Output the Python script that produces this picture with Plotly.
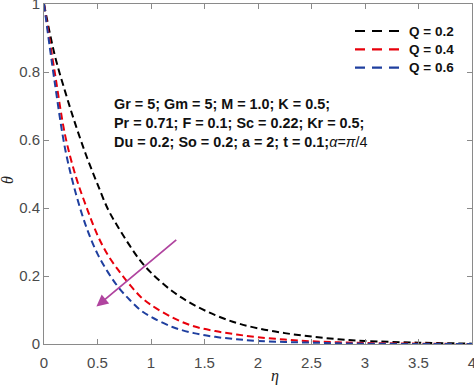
import plotly.graph_objects as go

eta = [0, 0.1, 0.2, 0.3, 0.4, 0.5, 0.6, 0.7, 0.8, 0.9, 1.0, 1.2, 1.4, 1.6, 1.8, 2.0, 2.25, 2.5, 2.75, 3.0, 3.5, 4.0]
theta_q02 = [1, 0.85, 0.74, 0.64, 0.55, 0.47, 0.395, 0.34, 0.29, 0.245, 0.21, 0.155, 0.115, 0.085, 0.062, 0.046, 0.032, 0.022, 0.014, 0.009, 0.004, 0.001]
theta_q04 = [1, 0.80, 0.61, 0.49, 0.40, 0.32, 0.26, 0.215, 0.175, 0.14, 0.115, 0.078, 0.052, 0.038, 0.028, 0.02, 0.013, 0.008, 0.005, 0.003, 0.001, 0.0]
theta_q06 = [1, 0.77, 0.57, 0.44, 0.34, 0.265, 0.21, 0.165, 0.13, 0.10, 0.08, 0.05, 0.032, 0.021, 0.014, 0.009, 0.006, 0.004, 0.002, 0.001, 0.0, 0.0]
labels = ["Q = 0.2", "Q = 0.4", "Q = 0.6"]
colors = ["#000000", "#e8000b", "#1f3f9f"]
xticks = [0, 0.5, 1, 1.5, 2, 2.5, 3, 3.5, 4]
yticks = [0, 0.2, 0.4, 0.6, 0.8, 1]

# plot area in pixels: x 44..472, y 4..344
W_PLOT, H_PLOT = 428, 340

fig = go.Figure()
for ys, lab, c in zip([theta_q02, theta_q04, theta_q06], labels, colors):
    fig.add_trace(go.Scatter(x=eta, y=ys, mode="lines", name=lab, line_shape="spline", showlegend=False,
                             line=dict(color=c, width=2, dash="7px,4px")))

# legend drawn as dashed line samples + bold labels
for i, (lab, c) in enumerate(zip(labels, colors)):
    ypx = 31 + i * 18.3
    yp = (344 - ypx) / H_PLOT
    fig.add_shape(type="line", xref="paper", yref="paper",
                  x0=(355 - 44) / W_PLOT, x1=(400 - 44) / W_PLOT, y0=yp, y1=yp,
                  line=dict(color=c, width=2.2, dash="10px,7px"))
    fig.add_annotation(x=(407 - 44) / W_PLOT, y=yp, xref="paper", yref="paper", text=f"<b>{lab}</b>",
                       showarrow=False, xanchor="left", yanchor="middle",
                       font=dict(family="Arial", size=13.5, color="#111111"))

axis_common = dict(showline=True, linecolor="#8a8a8a", linewidth=1, mirror="ticks",
                   ticks="inside", ticklen=5, tickcolor="#8a8a8a", showgrid=False, zeroline=False,
                   automargin=False, ticklabeloverflow="allow",
                   tickfont=dict(family="Arial", size=15, color="#4a4a4a"))
fig.update_xaxes(range=[0, 4], tickvals=xticks, ticktext=[f"{v:g}" for v in xticks],
                 ticklabelstandoff=5, **axis_common)
fig.update_yaxes(range=[0, 1], tickvals=yticks, ticktext=[f"{v:g}" for v in yticks],
                 ticklabelstandoff=0, **axis_common)

txt_font = dict(family="Arial", size=14.4, color="#111111")
lines = ["<b>Gr = 5; Gm = 5; M = 1.0; K = 0.5;</b>",
         "<b>Pr = 0.71; F = 0.1; Sc = 0.22; Kr = 0.5;</b>",
         "<b>Du = 0.2; So = 0.2; a = 2; t = 0.1;</b><i>α</i>=<i>π</i>/4"]
for i, t in enumerate(lines):
    fig.add_annotation(x=0.635, y=0.707 - i * 0.057, xref="x", yref="y", text=t, showarrow=False,
                       xanchor="left", yanchor="middle", font=txt_font)

fig.add_annotation(x=0.49, y=0.11, ax=1.25, ay=0.31, xref="x", yref="y", axref="x", ayref="y",
                   text="", showarrow=True, arrowhead=2, arrowsize=1.3, arrowwidth=1.8,
                   arrowcolor="#b0449f")

fig.add_annotation(x=(275 - 44) / W_PLOT, y=-(376 - 344) / H_PLOT, xref="paper", yref="paper",
                   text="<i>η</i>", showarrow=False, yanchor="middle",
                   font=dict(family="Times New Roman, Liberation Serif", size=16, color="#222222"))
fig.add_annotation(x=-(44 - 8) / W_PLOT, y=(344 - 180) / H_PLOT, xref="paper", yref="paper",
                   text="<i>θ</i>", showarrow=False, textangle=-90, xanchor="center", yanchor="middle",
                   font=dict(family="Times New Roman, Liberation Serif", size=16, color="#222222"))

fig.update_layout(width=474, height=387, margin=dict(l=44, r=2, t=4, b=43, autoexpand=False),
                  plot_bgcolor="white", paper_bgcolor="white", showlegend=False)

fig.write_html("out.html", config={"displayModeBar": False},
               post_script="document.body.style.margin='0';document.body.style.overflow='hidden';")
